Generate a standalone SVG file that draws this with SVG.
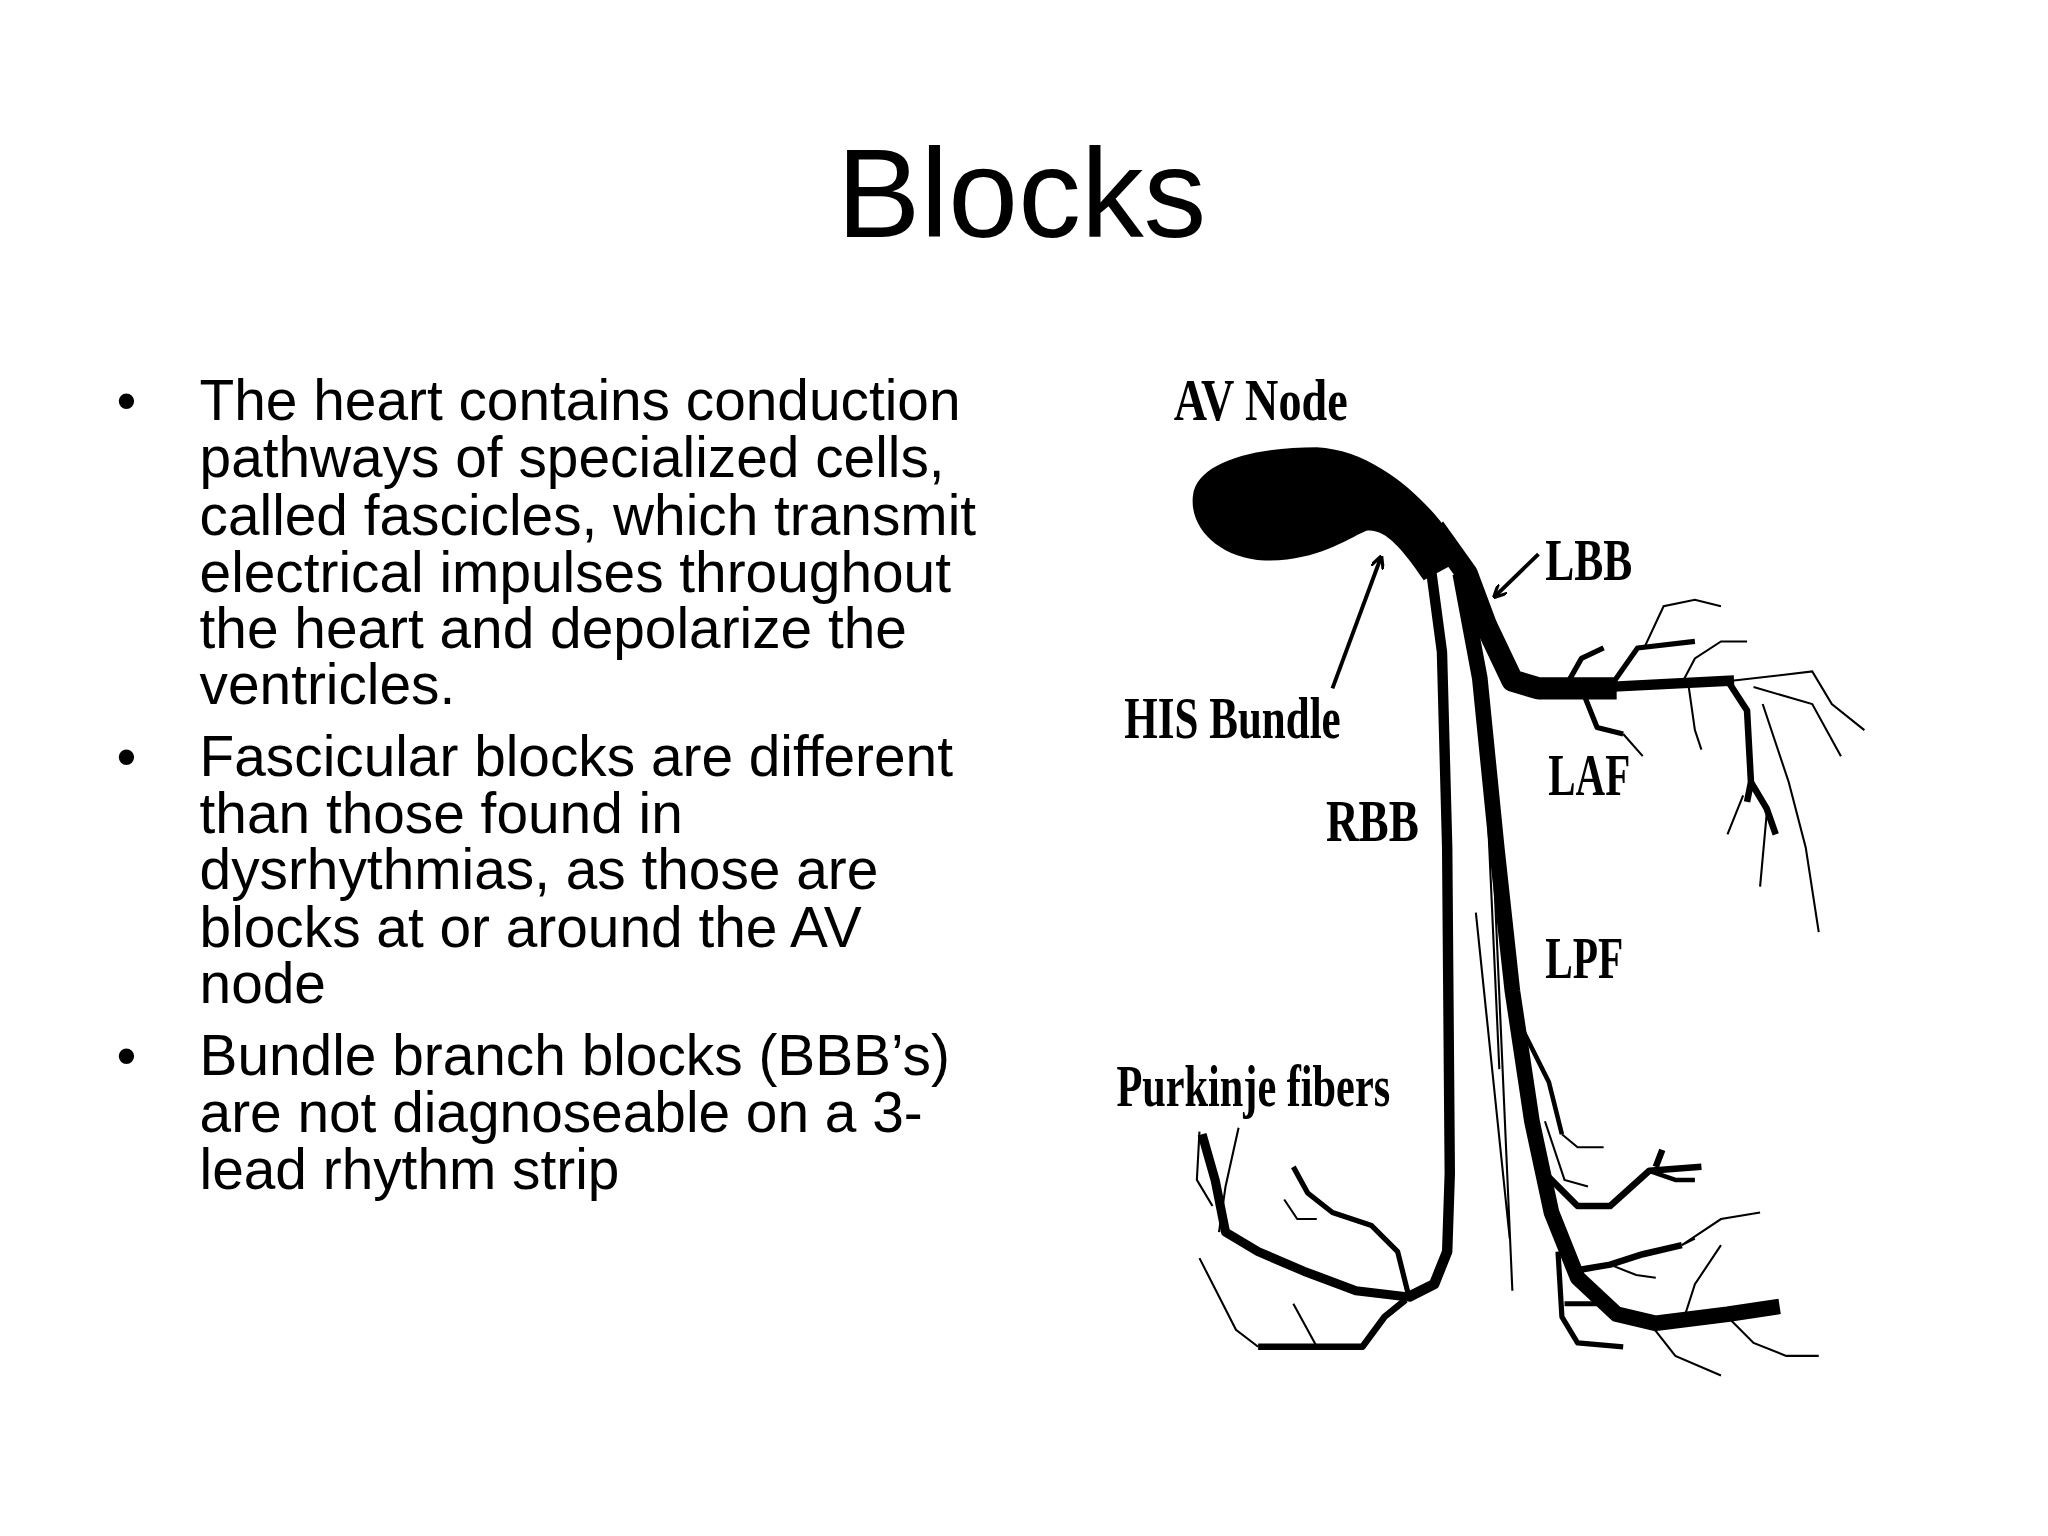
<svg xmlns="http://www.w3.org/2000/svg" width="2048" height="1536" viewBox="0 0 2048 1536">
<style>
.t{font-family:"Liberation Sans",Arial,sans-serif;font-size:57.5px;fill:#000}
.l{font-family:"Liberation Serif","Times New Roman",serif;font-weight:bold;font-size:60px;fill:#000}
.th{fill:none;stroke:#000;stroke-linecap:butt;stroke-linejoin:round}
.fn{fill:none;stroke:#000;stroke-width:1.6}
</style>
<defs><marker id="ah" markerWidth="10" markerHeight="10" refX="8" refY="5" orient="auto" markerUnits="userSpaceOnUse"><path d="M0,0 L10,5 L0,10" fill="none" stroke="#000" stroke-width="2.5"/></marker></defs>
<rect width="2048" height="1536" fill="#fff"/>
<g transform="scale(0.988)">
<text x="1034" y="240" text-anchor="middle" font-family="Liberation Sans,Arial,sans-serif" font-size="127">Blocks</text>
<g id="bullets" class="t">
<text x="118" y="425">•</text><text x="202" y="425">The heart contains conduction</text>
<text x="202" y="483">pathways of specialized cells,</text>
<text x="202" y="541">called fascicles, which transmit</text>
<text x="202" y="599">electrical impulses throughout</text>
<text x="202" y="656">the heart and depolarize the</text>
<text x="202" y="713">ventricles.</text>
<text x="118" y="785">•</text><text x="202" y="785">Fascicular blocks are different</text>
<text x="202" y="843">than those found in</text>
<text x="202" y="900">dysrhythmias, as those are</text>
<text x="202" y="958">blocks at or around the AV</text>
<text x="202" y="1015">node</text>
<text x="118" y="1088">•</text><text x="202" y="1088">Bundle branch blocks (BBB’s)</text>
<text x="202" y="1146">are not diagnoseable on a 3-</text>
<text x="202" y="1203">lead rhythm strip</text>
</g>
<g transform="scale(1.3196)">
<g id="av-node"><path d="M915,380 C918,355 960,343 1010,343 C1050,345 1085,375 1105,400 L1120,430 L1092,445 C1075,420 1062,405 1048,407 C1030,415 1010,430 970,430 C935,428 912,405 915,380 Z" fill="#000"/></g>
<g id="connectors">
<path class="th" stroke-width="17" d="M1100,405 L1125,440 L1140,480 L1160,522 L1180,528 L1240,528"/>
<path class="th" stroke-width="8" d="M1230,527 L1330,522"/>
<path class="th" stroke-width="12" d="M1120,440 L1135,520 L1148,650 L1160,760 L1175,860 L1190,930 L1210,980 L1240,1008 L1270,1015 L1325,1008 L1365,1002"/>
<path class="th" stroke-width="8" d="M1098,440 L1106,500 L1110,650 L1112,900 L1110,960 L1100,985 L1080,995"/>
<path class="th" stroke-width="7" d="M1082,995 L1040,990 L1000,975 L965,960 L940,945 L932,905 L922,870"/>
<path class="th" stroke-width="4" d="M1080,992 L1072,960 L1052,940 L1022,930 L1003,915 L992,895"/>
<path class="th" stroke-width="5" d="M1078,997 L1062,1010 L1045,1033 L965,1033"/>
<path class="fn" d="M965,1033 L948,1020 L920,965"/>
<path class="fn" d="M1010,1033 L992,1000"/>
<path class="fn" d="M920,868 L918,905 L930,925 M950,865 L940,910 L935,945"/>
<path class="fn" d="M985,920 L995,935 L1010,935"/>
<path class="fn" d="M1125,440 L1145,650 L1160,990 M1132,700 L1158,950 M1140,600 L1150,820"/>
<path class="th" stroke-width="4" d="M1200,528 L1213,505 L1230,497 M1235,527 L1256,497 L1300,492 M1215,533 L1225,558 L1245,563"/>
<path class="fn" d="M1245,563 L1260,580 M1262,495 L1276,465 L1300,460 L1320,465 M1290,524 L1300,505 L1320,492 L1340,492"/>
<path class="th" stroke-width="5" d="M1325,522 L1340,545 L1343,600 L1355,620 L1362,640 M1343,600 L1340,615"/>
<path class="fn" d="M1330,522 L1390,515 L1405,540 L1430,560 M1345,527 L1390,540 L1412,580 M1352,540 L1372,600 L1385,650 L1395,715 M1295,525 L1300,560 L1305,575 M1337,610 L1325,640 M1355,625 L1350,680"/>
<path class="th" stroke-width="3.5" d="M1168,790 L1188,830 L1198,870"/>
<path class="fn" d="M1198,870 L1210,880 L1230,880 M1185,860 L1200,905 L1218,910"/>
<path class="th" stroke-width="5" d="M1185,900 L1210,925 L1235,925 L1265,898 L1305,895 M1270,895 L1275,882"/>
<path class="th" stroke-width="3.5" d="M1265,898 L1285,905 L1300,905"/>
<path class="th" stroke-width="5" d="M1205,975 L1235,970 L1260,962 L1290,955"/>
<path class="fn" d="M1290,955 L1320,935 L1350,930 M1290,955 L1300,950 M1235,970 L1255,978 L1270,980"/>
<path class="th" stroke-width="4" d="M1195,960 L1198,1010 L1210,1030 L1245,1033 M1200,1000 L1225,1000"/>
<path class="fn" d="M1263,1012 L1285,1040 L1320,1055 M1325,1010 L1345,1030 L1370,1040 L1395,1040 M1292,1010 L1300,985 L1320,955"/>
<path class="th" stroke-width="3" d="M1022,528 L1059,428" marker-end="url(#ah)"/>
<path class="th" stroke-width="3" d="M1180,425 L1147,457" marker-end="url(#ah)"/>
</g>
</g>
<g id="labels" class="l">
<text x="1188" y="425" textLength="176" lengthAdjust="spacingAndGlyphs">AV Node</text>
<text x="1564" y="587" textLength="88" lengthAdjust="spacingAndGlyphs">LBB</text>
<text x="1138" y="747" textLength="219" lengthAdjust="spacingAndGlyphs">HIS Bundle</text>
<text x="1567" y="805" textLength="83" lengthAdjust="spacingAndGlyphs">LAF</text>
<text x="1342" y="851" textLength="94" lengthAdjust="spacingAndGlyphs">RBB</text>
<text x="1564" y="990" textLength="79" lengthAdjust="spacingAndGlyphs">LPF</text>
<text x="1130" y="1119" textLength="277" lengthAdjust="spacingAndGlyphs">Purkinje fibers</text>
</g>
</g>
</svg>
